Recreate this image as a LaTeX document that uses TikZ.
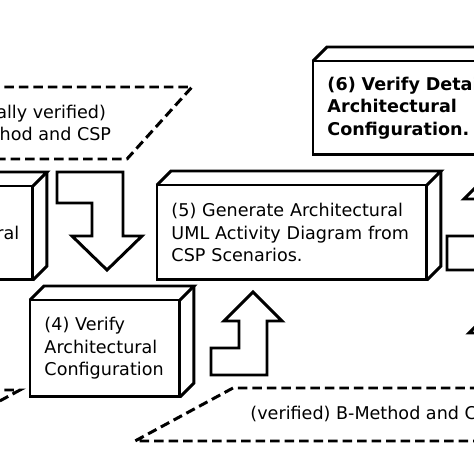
\documentclass[tikz,border=0pt]{standalone}
\usepackage{fontspec}
\setmainfont{DejaVu Sans}
\usepackage{tikz}
\usetikzlibrary{positioning, calc}

%% top and side faces of a 3d step box
\newcommand{\boxfaces}[1]{%
	\draw[faces] (#1.north west) -- ++(14,-14) -- ($(#1.north east)+(14,-14)$) -- (#1.north east);
	\draw[faces] ($(#1.north east)+(14,-14)$) -- ($(#1.south east)+(14,-14)$) -- (#1.south east);}

\begin{document}
\begin{tikzpicture}[x=0.02cm, y=-0.02cm, line width=1.7pt, every node/.style={font=\fontsize{10}{12.8}\selectfont}]
		\tikzstyle{stepbox}=[draw, outer sep=0pt, anchor=north west, align=left, inner xsep=0.29cm, fill=white]
		\tikzstyle{faces}=[line join=miter]
		\tikzstyle{flow}=[dash pattern=on 0.19cm off 0.1cm]
		\tikzstyle{flowtext}=[inner sep=0pt, anchor=west, align=left]
		\tikzstyle{bigarrow}=[draw, fill=white, line join=miter]
		
		\useasboundingbox (0,0) rectangle (474,474);
		\clip (0,0) rectangle (474,474);
		
		%% data flows
		\draw[flow] (-300,87) -- (192,87) -- (127,159) -- (-300,159);
		\node[flowtext](F1) at (-53,123) {(partially verified)\\B-Method and CSP};
		\draw[flow] (700,441) -- (135,441) -- (233,388) -- (700,388);
		\node[flowtext](F2) at (249,414) {(verified) B-Method and CSP};
		\draw[flow] (-300,390) -- (20,390) -- (-78,443) -- (-300,443);
		
		%% steps
		\node[stepbox, minimum width=2.82cm, minimum height=1.88cm, text width=2.24cm](S3) at (-108,186) {Architectural};
		\boxfaces{S3}
		\node[stepbox, minimum width=3.0cm, minimum height=1.94cm, text width=2.42cm](S4) at (30,300) {(4) Verify\\Architectural\\Configuration};
		\boxfaces{S4}
		\node[stepbox, minimum width=5.4cm, minimum height=1.9cm, text width=4.82cm](S5) at (157,185) {(5) Generate Architectural\\UML Activity Diagram from\\CSP Scenarios.};
		\boxfaces{S5}
		\node[stepbox, minimum width=4.94cm, minimum height=1.88cm, text width=4.36cm, font=\fontsize{10}{12.8}\selectfont\bfseries](S6) at (313,61) {(6) Verify Detailed\\Architectural\\Configuration.};
		\boxfaces{S6}
		
		%% block arrows
		\draw[bigarrow] (57,172) -- (123,172) -- (123,236) -- (142,236) -- (107,270) -- (72,236) -- (92,236) -- (92,203) -- (57,203) -- cycle;
		\draw[bigarrow] (253,292) -- (282,321) -- (267,321) -- (267,375) -- (211,375) -- (211,348) -- (239,348) -- (239,321) -- (224,321) -- cycle;
		\draw[bigarrow] (447,270) -- (447,236) -- (480,236) -- (480,199) -- (464,199) -- (497,166) -- (530,199) -- (514,199) -- (514,270) -- cycle;
		\draw[bigarrow] (469,333) -- (500,302) -- (531,333) -- (516,333) -- (516,380) -- (484,380) -- (484,333) -- cycle;
\end{tikzpicture}
\end{document}
